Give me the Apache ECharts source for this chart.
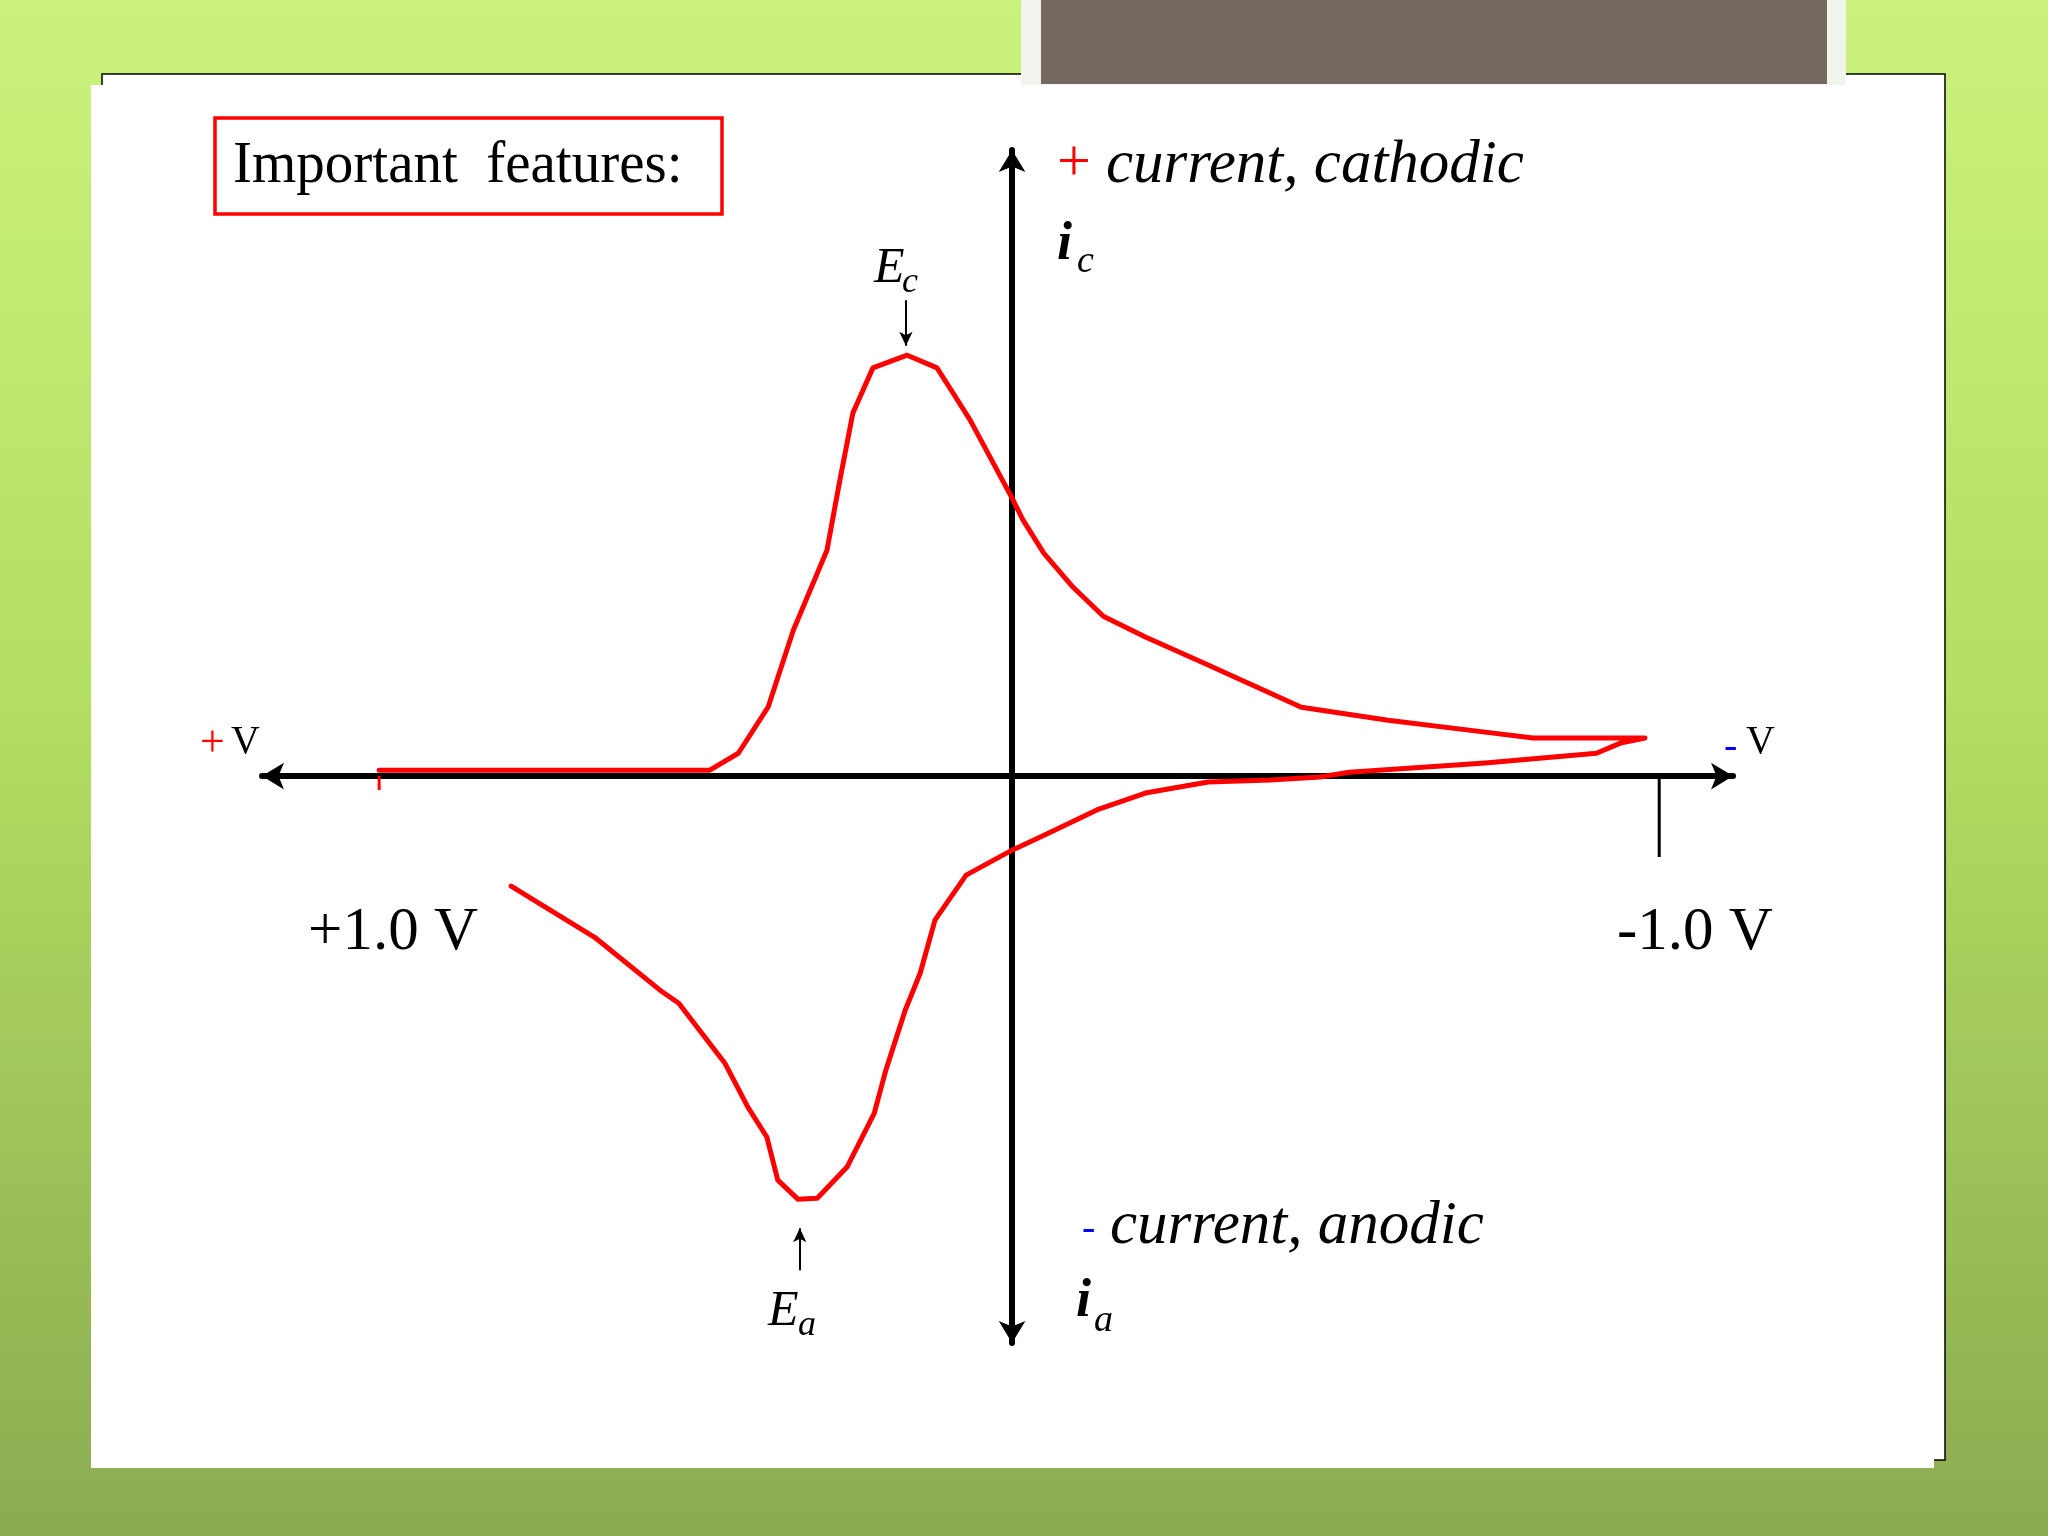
<!DOCTYPE html>
<html>
<head>
<meta charset="utf-8">
<script src="https://cdn.jsdelivr.net/npm/echarts@6/dist/echarts.min.js"></script>
<style>html,body{margin:0;padding:0;}#chart{width:2048px;height:1536px;}</style>
</head>
<body>
<div id="chart"></div>
<script>
// Potential (V) and current (arbitrary units)
const potentialForward = [0.978, 0.467, 0.423, 0.377, 0.338, 0.286, 0.266, 0.246, 0.235, 0.215, 0.162, 0.116, 0.091, 0.065, 0.034, 0.000, -0.017, -0.049, -0.094, -0.141, -0.206, -0.297, -0.447, -0.581, -0.731, -0.805, -0.978];
const currentForward   = [0.14, 0.14, 0.54, 1.63, 3.45, 5.34, 7.00, 8.58, 8.96, 9.65, 9.95, 9.65, 9.05, 8.42, 7.54, 6.57, 6.05, 5.27, 4.47, 3.78, 3.29, 2.67, 1.63, 1.32, 1.04, 0.90, 0.90];
const potentialReverse = [-0.940, -0.903, -0.731, -0.521, -0.476, -0.399, -0.303, -0.206, -0.131, -0.056, 0.000, 0.071, 0.119, 0.142, 0.165, 0.195, 0.213, 0.255, 0.301, 0.331, 0.362, 0.379, 0.408, 0.444, 0.515, 0.544, 0.645, 0.774];
const currentReverse   = [0.78, 0.54, 0.31, 0.09, -0.02, -0.09, -0.14, -0.40, -0.80, -1.35, -1.75, -2.34, -3.40, -4.66, -5.53, -6.95, -7.97, -9.24, -9.98, -10.00, -9.55, -8.53, -7.83, -6.78, -5.37, -5.06, -3.81, -2.60];
const potentialTick = [-1.0, -1.0];
const currentTick = [0, -1.91];
const startMarkPotential = [0.978, 0.978];
const startMarkCurrent = [0, -0.33];
const peakCathodic = [0.164, 11.25, 10.17];   // x, arrow tail, arrow tip
const peakAnodic = [0.328, -11.68, -10.69];

const cvData = potentialForward.map((v, i) => [v, currentForward[i]])
  .concat(potentialReverse.map((v, i) => [v, currentReverse[i]]));
const tickData = potentialTick.map((v, i) => [v, currentTick[i]]);
const startData = startMarkPotential.map((v, i) => [v, startMarkCurrent[i]]);

const serif = '"Liberation Serif", "DejaVu Serif", serif';
function txt(x, y, text, size, opts) {
  opts = opts || {};
  return {
    type: 'text', x: x, y: y, z: 100, scaleX: opts.scaleX || 1,
    style: {
      text: text, fill: opts.fill || '#000', fontFamily: serif, fontSize: size,
      fontStyle: opts.italic ? 'italic' : 'normal', fontWeight: opts.bold ? 'bold' : 'normal',
      verticalAlign: 'middle', align: 'left'
    }
  };
}

const chart = echarts.init(document.getElementById('chart'));
chart.setOption({
  animation: false,
  backgroundColor: {
    type: 'linear', x: 0, y: 0, x2: 0, y2: 1,
    colorStops: [{offset: 0, color: '#cbf27d'}, {offset: 0.45, color: '#b3df62'}, {offset: 1, color: '#8bab51'}]
  },
  grid: {left: 262, right: 315, top: 150, bottom: 193, outerBoundsMode: 'none'},
  xAxis: {
    type: 'value', inverse: true, min: -1.114, max: 1.159,
    axisLine: {onZero: true, lineStyle: {color: '#000', width: 6}, symbol: ['arrow', 'arrow'], symbolSize: [20, 22]},
    axisTick: {show: false}, axisLabel: {show: false}, splitLine: {show: false}
  },
  yAxis: {
    type: 'value', min: -13.40, max: 14.80,
    axisLine: {onZero: true, lineStyle: {color: '#000', width: 6}, symbol: ['arrow', 'arrow'], symbolSize: [20, 22]},
    axisTick: {show: false}, axisLabel: {show: false}, splitLine: {show: false}
  },
  series: [
    {
      type: 'line', data: cvData, showSymbol: false, smooth: false, z: 5,
      lineStyle: {color: '#ff0000', width: 5, join: 'round', cap: 'round'}
    },
    {
      type: 'line', data: tickData, showSymbol: false, z: 4,
      lineStyle: {color: '#000', width: 3}
    },
    {
      type: 'line', data: startData, showSymbol: false, z: 4,
      lineStyle: {color: '#ff0000', width: 3}
    },
    {
      type: 'line', data: [], z: 6,
      markLine: {
        silent: true, symbol: ['none', 'arrow'], symbolSize: [10, 14],
        label: {show: false}, lineStyle: {color: '#000', width: 2, type: 'solid'},
        data: [
          [{coord: [peakCathodic[0], peakCathodic[1]]}, {coord: [peakCathodic[0], peakCathodic[2]]}],
          [{coord: [peakAnodic[0], peakAnodic[1]]}, {coord: [peakAnodic[0], peakAnodic[2]]}]
        ]
      }
    }
  ],
  graphic: [
    // slide decoration
    {type: 'rect', z: -20, shape: {x: 102, y: 74, width: 1843, height: 1386}, style: {fill: '#fff', stroke: '#000', lineWidth: 1.5}},
    {type: 'rect', z: -19, shape: {x: 1021, y: 0, width: 825, height: 85}, style: {fill: '#f1f4ec'}},
    {type: 'rect', z: -18, shape: {x: 1041, y: 0, width: 786, height: 84}, style: {fill: '#74695e'}},
    {type: 'rect', z: -17, shape: {x: 91, y: 85, width: 1843, height: 1383}, style: {fill: '#fff'}},
    // title box
    {type: 'rect', z: 100, shape: {x: 215, y: 118, width: 507, height: 96}, style: {fill: 'none', stroke: '#ff0000', lineWidth: 3.5}},
    txt(233, 166, 'Important  features:', 60, {scaleX: 0.95}),
    // cathodic label
    txt(1057, 164, '+', 60, {fill: '#ff0000'}),
    txt(1106, 166, 'current, cathodic', 61, {italic: true}),
    txt(1057, 245, 'i', 54, {italic: true, bold: true}),
    txt(1077, 262, 'c', 38, {italic: true}),
    // anodic label
    txt(1082, 1229, '-', 40, {fill: '#0000ff'}),
    txt(1110, 1227, 'current, anodic', 61, {italic: true}),
    txt(1076, 1302, 'i', 54, {italic: true, bold: true}),
    txt(1094, 1321, 'a', 38, {italic: true}),
    // peak labels
    txt(874, 269, 'E', 50, {italic: true}),
    txt(902, 283, 'c', 36, {italic: true}),
    txt(768, 1312, 'E', 50, {italic: true}),
    txt(798, 1326, 'a', 36, {italic: true}),
    // potential labels
    txt(200, 744, '+', 44, {fill: '#ff0000'}),
    txt(231, 742, 'V', 40),
    txt(1724, 747, '-', 40, {fill: '#0000ff'}),
    txt(1746, 742, 'V', 40),
    txt(308, 933, '+1.0 V', 61),
    txt(1617, 933, '-1.0 V', 61)
  ]
});
</script>
</body>
</html>
